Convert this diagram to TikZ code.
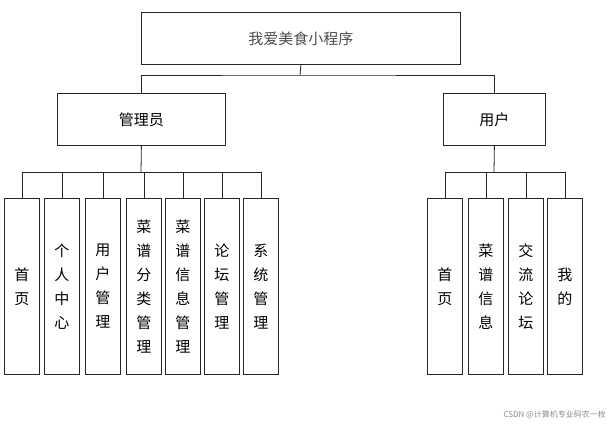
\documentclass[tikz,border=0pt]{standalone}
\usepackage{fontspec}
\setmainfont{Noto Sans CJK SC}
\begin{document}
\begin{tikzpicture}[x=1pt,y=-1pt,
  box/.style={draw=black!85,line width=0.8pt,anchor=north west,inner sep=0pt},
  leaf/.style={box,minimum width=35pt,minimum height=176pt,font=\fontsize{15}{24}\selectfont,align=center},
  ln/.style={draw=black!85,line width=0.8pt}]
\useasboundingbox[fill=white] (0,0) rectangle (610,425);
\node[box,minimum width=319pt,minimum height=52pt,font=\fontsize{15}{18}\selectfont,text=black!70] (root) at (141,12) {我爱美食小程序};
\node[box,minimum width=168pt,minimum height=52pt,font=\fontsize{15}{18}\selectfont] (adm) at (57,93) {管理员};
\node[box,minimum width=102pt,minimum height=52pt,font=\fontsize{15}{18}\selectfont] (usr) at (443,93) {用户};
\foreach \n/\x/\t in {a1/4/首\\页, a2/44/个\\人\\中\\心, a3/85/用\\户\\管\\理, a4/126/菜\\谱\\分\\类\\管\\理, a5/165/菜\\谱\\信\\息\\管\\理, a6/204/论\\坛\\管\\理, a7/243/系\\统\\管\\理, u1/427/首\\页, u2/468/菜\\谱\\信\\息, u3/508/交\\流\\论\\坛, u4/547/我\\的}
  \node[leaf] (\n) at (\x,198) {\t};
\coordinate (r1) at (300,75);
\draw[ln] (root.south) -- (r1);
\draw[ln] (adm.north) |- (r1) -| (usr.north);
\coordinate (h1) at (141,172);
\draw[ln] (adm.south) -- (h1);
\foreach \n in {a1,a2,a3,a4,a5,a6,a7} \draw[ln] (\n.north) -- (\n.north |- h1) -- (h1);
\coordinate (h2) at (494,172);
\draw[ln] (usr.south) -- (h2);
\foreach \n in {u1,u2,u3,u4} \draw[ln] (\n.north) -- (\n.north |- h2) -- (h2);
\node[anchor=south east,font=\fontsize{8}{10}\selectfont,text=black!45,inner sep=2pt] (wm) at (608,421) {CSDN @计算机专业码农一枚};
\end{tikzpicture}
\end{document}
